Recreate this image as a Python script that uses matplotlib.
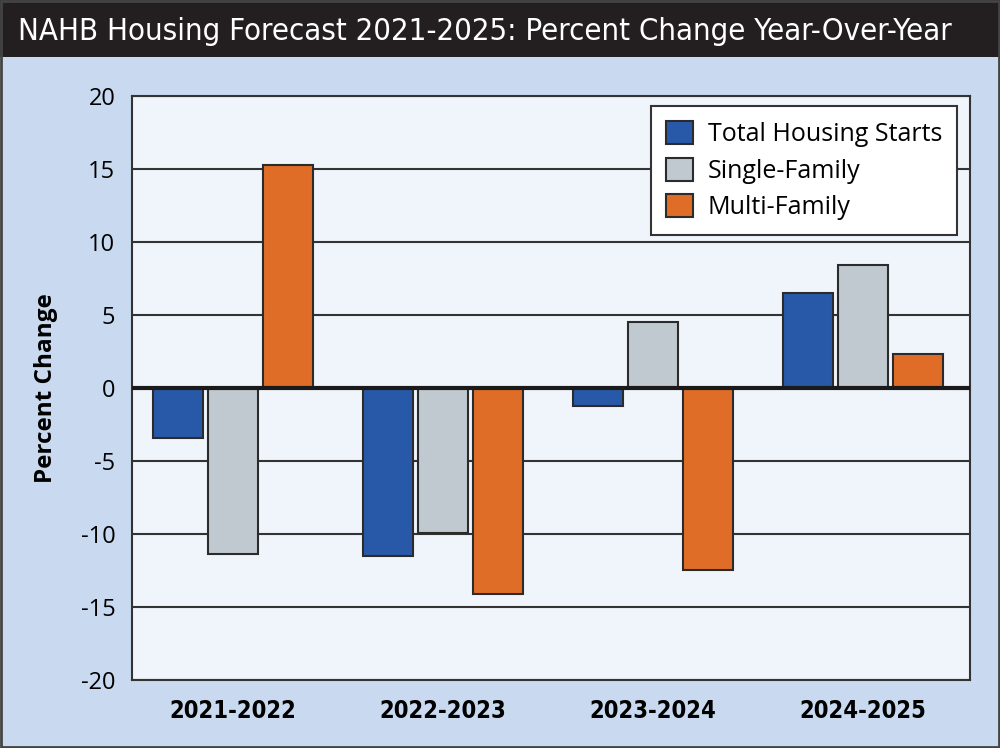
import numpy as np
import matplotlib
matplotlib.use("Agg")
import matplotlib.pyplot as plt
from matplotlib.patches import Rectangle

# data
periods = ["2021-2022", "2022-2023", "2023-2024", "2024-2025"]
total_starts = [-3.4, -11.5, -1.2, 6.5]
single_family = [-11.4, -9.9, 4.5, 8.4]
multi_family = [15.3, -14.1, -12.5, 2.3]
series_names = ["Total Housing Starts", "Single-Family", "Multi-Family"]
series_colors = ["#2759a8", "#c0c9d0", "#e06d27"]
y_ticks = [-20, -15, -10, -5, 0, 5, 10, 15, 20]

title = "NAHB Housing Forecast 2021-2025: Percent Change Year-Over-Year"

fig = plt.figure(figsize=(10, 7.48), dpi=100)
fig.patch.set_facecolor("#c9daf0")

# black title band and outer border
fig.add_artist(Rectangle((0, 1 - 57 / 748), 1, 57 / 748, transform=fig.transFigure,
                         facecolor="#231f20", edgecolor="none", zorder=0))
fig.add_artist(Rectangle((0.001, 0.001), 0.998, 0.998, transform=fig.transFigure,
                         facecolor="none", edgecolor="#444444", linewidth=2, zorder=5))
t = fig.text(0.018, 1 - 31 / 748, title, color="white", fontsize=25,
             family="DejaVu Sans", fontstretch="condensed", va="center", ha="left")
# shrink the title so it fits the band width (~937 px)
renderer = fig.canvas.get_renderer()
w = t.get_window_extent(renderer).width
t.set_fontsize(25 * 937 / w)

ax = fig.add_axes([0.132, 0.0909, 0.838, 0.7808])
ax.set_facecolor("#f0f5fc")

x = np.arange(len(periods))
width = 0.24
step = 0.262
all_series = [total_starts, single_family, multi_family]
for i, vals in enumerate(all_series):
    ax.bar(x + (i - 1) * step, vals, width, color=series_colors[i],
           edgecolor="#2b2b2b", linewidth=1.5, label=series_names[i], zorder=3)

ax.set_xlim(-0.48, 3.51)
ax.set_ylim(-20, 20)
ax.set_yticks(y_ticks)
ax.set_yticklabels([str(v) for v in y_ticks], fontsize=17, family="Open Sans")
ax.yaxis.grid(True, color="#333333", linewidth=1.5, zorder=1)
ax.axhline(0, color="#1a1a1a", linewidth=3, zorder=4)
ax.tick_params(axis="y", length=0, pad=12)
ax.tick_params(axis="x", length=0, pad=14)
ax.set_xticks(x)
ax.set_xticklabels(periods, fontsize=17, fontweight="bold", family="DejaVu Sans",
                   fontstretch="condensed")
ax.set_ylabel("Percent Change", fontsize=17.5, fontweight="bold", family="Open Sans", labelpad=16)
for s in ax.spines.values():
    s.set_color("#333333")
    s.set_linewidth(1.5)

leg = ax.legend(loc="upper right", bbox_to_anchor=(0.9845, 0.983),
                prop={"family": "Open Sans", "size": 18},
                frameon=True, fancybox=False, edgecolor="#333333", framealpha=1,
                handlelength=1.05, handleheight=1.05, handletextpad=0.6,
                labelspacing=0.42, borderpad=0.6, borderaxespad=0)
leg.get_frame().set_linewidth(1.5)
leg.get_frame().set_facecolor("white")
leg.set_zorder(6)

fig.savefig("out.png", dpi=100, facecolor=fig.get_facecolor())
